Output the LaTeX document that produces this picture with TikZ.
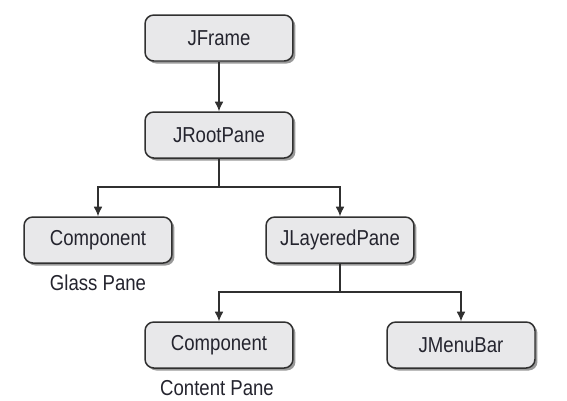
\documentclass[tikz,border=0pt]{standalone}
\usepackage{fontspec}
\setmainfont{Liberation Sans}[FakeStretch=0.86]
\usetikzlibrary{arrows.meta,shapes,shadows}

\definecolor{boxfill}{HTML}{E8E8EA}
\definecolor{boxline}{HTML}{303030}
\definecolor{textcol}{HTML}{24242E}

\begin{document}
\begin{tikzpicture}[
x=0.02cm, y=-0.02cm,
font=\fontsize{12.3}{14}\selectfont, text=textcol,
pane/.style={
    draw=boxline, line width=0.85pt, fill=boxfill,
    rounded corners=5pt, minimum width=2.96cm, minimum height=0.92cm,
    drop shadow={shadow xshift=0.05cm, shadow yshift=-0.05cm, fill=black!40, opacity=1},
},
link/.style={draw=boxline, line width=0.6pt},
tip/.style={-{Latex[length=5.5pt,width=5pt]}},
caption/.style={inner sep=0pt},
]
\useasboundingbox (0,0) rectangle (567,400);

\node[pane] (frame) at (219,38) {JFrame};
\node[pane] (root) at (219,135) {JRootPane};
\node[pane] (glass) at (98,240) {Component};
\node[pane] (layered) at (340,240) {JLayeredPane};
\node[pane] (content) at (219,345) {Component};
\node[pane] (menubar) at (461,345) {JMenuBar};

\node[caption] (glasslabel) at (98,283) {Glass Pane};
\node[caption] (contentlabel) at (217,388) {Content Pane};

\coordinate (split1) at (219,187);
\coordinate (split2) at (340,292);

\draw[link,tip] (frame) -- (root);
\draw[link] (root) -- (split1);
\draw[link,tip] (split1) -| (glass);
\draw[link,tip] (split1) -| (layered);
\draw[link] (layered) -- (split2);
\draw[link,tip] (split2) -| (content);
\draw[link,tip] (split2) -| (menubar);

\end{tikzpicture}
\end{document}
